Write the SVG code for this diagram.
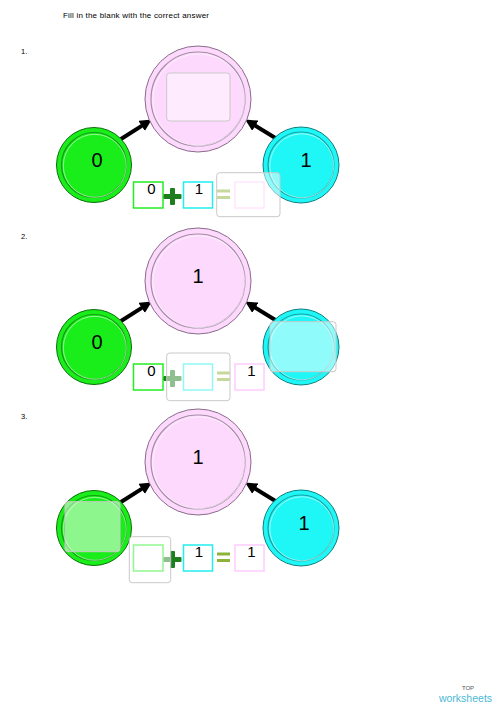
<svg xmlns="http://www.w3.org/2000/svg" width="500" height="707" viewBox="0 0 500 707">
<defs>
<style>
.t{font-family:"Liberation Sans",Arial,sans-serif;fill:#000}
.big{font-size:20px;text-anchor:middle}
.sm{font-size:15px;text-anchor:end}
.lbl{font-size:7.5px}
.ov{fill:#fff;fill-opacity:.5;stroke:#c9c9c9;stroke-width:1}
.box{fill:#fff;stroke-width:1.5}
.bg{stroke:#22ee22}.bc{stroke:#22eeee}.bp{stroke:#ffccff}
.arr{stroke:#000;stroke-width:4;fill:none;marker-end:url(#ah)}
.pk{fill:#fdd9fd;stroke:#8a6c8a;stroke-width:1}
.gr{fill:#1aee1a;stroke:#0b6e0b;stroke-width:1}
.cy{fill:#1ff7f7;stroke:#0b7f80;stroke-width:1}
.ring{fill:none;stroke:#000;stroke-opacity:.35;stroke-width:1.2}
.hl{fill:none;stroke:#fff;stroke-opacity:.55;stroke-width:1}
.plus{fill:#1e7e1e}
.eq{fill:#8db33a}
</style>
<marker id="ah" markerUnits="userSpaceOnUse" markerWidth="12" markerHeight="12" refX="1" refY="6" orient="auto" viewBox="0 0 12 12">
<path d="M0,0 L12,6 L0,12 z" fill="#000"/>
</marker>
</defs>
<rect width="500" height="707" fill="#fff"/>
<text class="t" x="63" y="18.3" font-size="8" textLength="146">Fill in the blank with the correct answer</text>

<g id="connectors">
<line class="arr" x1="121" y1="139" x2="142.5" y2="125.4"/>
<line class="arr" x1="277" y1="139" x2="254.5" y2="125.2"/>
<line class="arr" x1="121" y1="321" x2="142.5" y2="307.4"/>
<line class="arr" x1="277" y1="321" x2="254.5" y2="307.2"/>
<line class="arr" x1="121" y1="502" x2="142.5" y2="488.4"/>
<line class="arr" x1="277" y1="502" x2="254.5" y2="488.2"/>
</g>

<!-- Problem 1 -->
<text class="t lbl" x="21" y="54">1.</text>
<g id="p1-sum">
<circle class="pk" cx="198" cy="99" r="53"/>
<circle class="ring" cx="198" cy="99" r="47"/>
<circle class="hl" cx="198.8" cy="99.8" r="46"/>
<rect class="ov" x="166.7" y="73" width="63.3" height="48" rx="3"/>
</g>
<g id="p1-a">
<circle class="gr" cx="94" cy="165" r="37.5"/>
<circle class="ring" cx="94" cy="165" r="32.5"/>
<circle class="hl" cx="94.8" cy="165.8" r="31.5"/>
<text class="t big" x="97" y="166.5">0</text>
</g>
<g id="p1-b">
<circle class="cy" cx="301" cy="165" r="38"/>
<circle class="ring" cx="301" cy="165" r="33"/>
<circle class="hl" cx="301.8" cy="165.8" r="32"/>
<text class="t big" x="306" y="166.5">1</text>
</g>
<g id="p1-eq">
<rect class="box bg" x="133.5" y="182" width="29.5" height="26"/>
<text class="t sm" x="155.5" y="193.5">0</text>
<rect class="plus" x="163.5" y="194" width="18" height="5" rx="1"/>
<rect class="plus" x="170" y="188" width="5" height="17" rx="1"/>
<rect class="box bc" x="183.5" y="182" width="29" height="26"/>
<text class="t sm" x="203" y="193.5">1</text>
<rect class="eq" x="217" y="189.5" width="13" height="3"/>
<rect class="eq" x="217" y="196" width="13" height="3"/>
<rect class="box bp" x="235" y="182" width="29" height="26"/>
<rect class="ov" x="216.7" y="172.7" width="63.3" height="44" rx="3"/>
</g>

<!-- Problem 2 -->
<text class="t lbl" x="21" y="239">2.</text>
<g id="p2-sum">
<circle class="pk" cx="198" cy="281" r="53"/>
<circle class="ring" cx="198" cy="281" r="47"/>
<circle class="hl" cx="198.8" cy="281.8" r="46"/>
<text class="t big" x="198" y="283">1</text>
</g>
<g id="p2-a">
<circle class="gr" cx="94" cy="347" r="37.5"/>
<circle class="ring" cx="94" cy="347" r="32.5"/>
<circle class="hl" cx="94.8" cy="347.8" r="31.5"/>
<text class="t big" x="97" y="348.5">0</text>
</g>
<g id="p2-b">
<circle class="cy" cx="301" cy="347" r="38"/>
<circle class="ring" cx="301" cy="347" r="33"/>
<circle class="hl" cx="301.8" cy="347.8" r="32"/>
<rect class="ov" x="270" y="321.7" width="66" height="50" rx="3"/>
</g>
<g id="p2-eq">
<rect class="box bg" x="133.5" y="364" width="29.5" height="26"/>
<text class="t sm" x="155.5" y="375.5">0</text>
<rect class="plus" x="163.5" y="376" width="18" height="5" rx="1"/>
<rect class="plus" x="170" y="370" width="5" height="17" rx="1"/>
<rect class="box bc" x="183.5" y="364" width="29" height="26"/>
<rect class="eq" x="217" y="371.5" width="13" height="3"/>
<rect class="eq" x="217" y="378" width="13" height="3"/>
<rect class="box bp" x="235" y="364" width="29" height="26"/>
<text class="t sm" x="255.5" y="375.5">1</text>
<rect class="ov" x="166.7" y="353" width="63.3" height="47.7" rx="3"/>
</g>

<!-- Problem 3 -->
<text class="t lbl" x="21" y="419">3.</text>
<g id="p3-sum">
<circle class="pk" cx="198" cy="462" r="53"/>
<circle class="ring" cx="198" cy="462" r="47"/>
<circle class="hl" cx="198.8" cy="462.8" r="46"/>
<text class="t big" x="198" y="464">1</text>
</g>
<g id="p3-a">
<circle class="gr" cx="94" cy="528" r="37.5"/>
<circle class="ring" cx="94" cy="528" r="32.5"/>
<circle class="hl" cx="94.8" cy="528.8" r="31.5"/>
<rect class="ov" x="65" y="501.7" width="55" height="50" rx="3"/>
</g>
<g id="p3-b">
<circle class="cy" cx="301" cy="528" r="38"/>
<circle class="ring" cx="301" cy="528" r="33"/>
<circle class="hl" cx="301.8" cy="528.8" r="32"/>
<text class="t big" x="304" y="530">1</text>
</g>
<g id="p3-eq">
<rect class="box bg" x="133.5" y="545" width="29.5" height="26"/>
<rect class="plus" x="163.5" y="557" width="18" height="5" rx="1"/>
<rect class="plus" x="170" y="551" width="5" height="17" rx="1"/>
<rect class="box bc" x="183.5" y="545" width="29" height="26"/>
<text class="t sm" x="203" y="556.5">1</text>
<rect class="eq" x="217" y="552.5" width="13" height="3"/>
<rect class="eq" x="217" y="559" width="13" height="3"/>
<rect class="box bp" x="235" y="545" width="29" height="26"/>
<text class="t sm" x="255.5" y="556.5">1</text>
<rect class="ov" x="129.3" y="536.7" width="41.4" height="46" rx="3"/>
</g>

<g id="logo">
<text x="468" y="689.5" font-family="Liberation Sans,Arial,sans-serif" font-size="6" fill="#555" text-anchor="middle">TOP</text>
<text x="465.5" y="701.5" font-family="Liberation Sans,Arial,sans-serif" font-size="10.5" fill="#4bb8d6" text-anchor="middle">worksheets</text>
</g>
</svg>
